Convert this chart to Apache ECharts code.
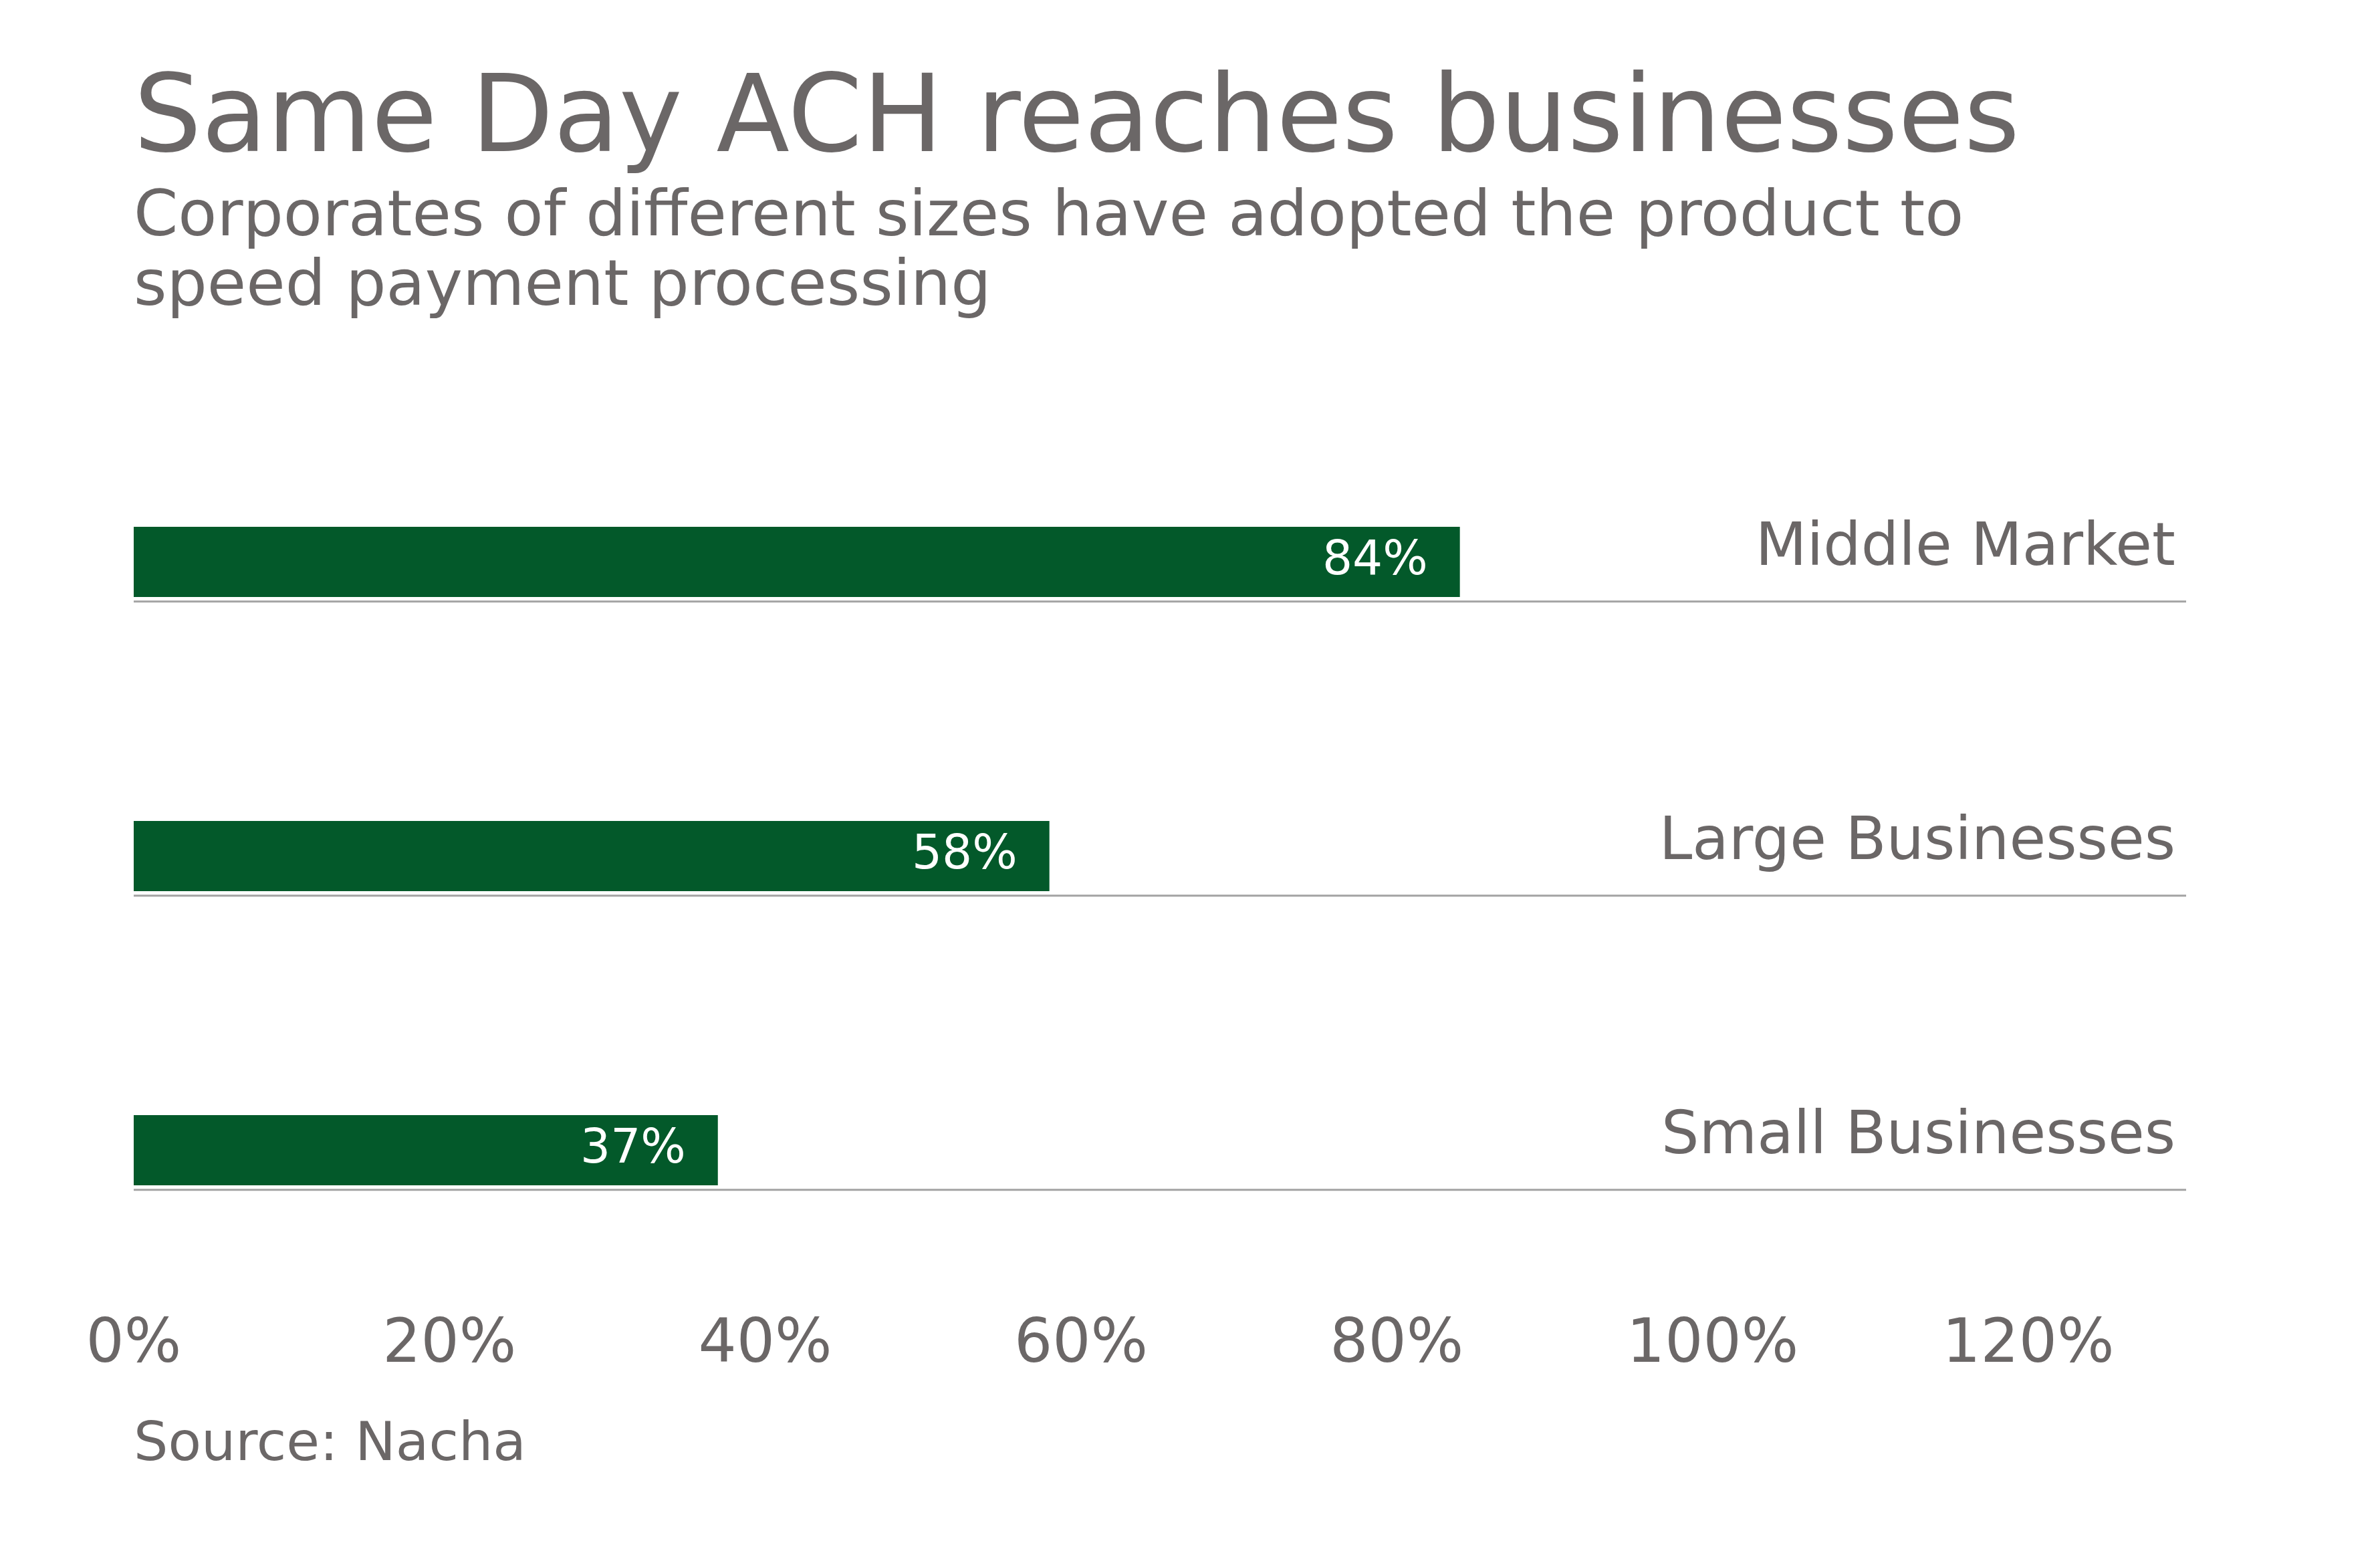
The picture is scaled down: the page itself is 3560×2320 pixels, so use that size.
<!DOCTYPE html>
<html>
<head>
<meta charset="utf-8">
<title>Same Day ACH reaches businesses</title>
<script src="https://cdn.jsdelivr.net/npm/echarts@6/dist/echarts.min.js"></script>
<style>
  html, body { margin: 0; padding: 0; background: #ffffff; }
  #chart { width: 3560px; height: 2320px; }
</style>
</head>
<body>
<div id="chart"></div>
<script>
// ---- data ----
var categories = ['Middle Market', 'Large Businesses', 'Small Businesses'];
var adoption = [84, 58, 37];          // % of corporates using Same Day ACH
var baseline = [0, 0, 0];             // grey rule under each bar
var xTicks = { min: 0, max: 130, step: 20 };

var grey = '#6b6767';
var green = '#03592a';
var rule = '#a3a3a3';
var font = 'DejaVu Sans';

var myChart = echarts.init(document.getElementById('chart'));

var option = {
    backgroundColor: '#ffffff',
    animation: false,
    title: [
        {
            text: 'Same Day ACH reaches businesses',
            left: 200, top: 104, padding: 0,
            textStyle: { fontFamily: font, fontSize: 160, fontWeight: 'normal', color: grey, lineHeight: 160 }
        },
        {
            text: 'Corporates of different sizes have adopted the product to\nspeed payment processing',
            left: 200, top: 275, padding: 0,
            textStyle: { fontFamily: font, fontSize: 95, fontWeight: 'normal', color: grey, lineHeight: 104 }
        },
        {
            text: 'Source: Nacha',
            left: 200, top: 2122, padding: 0,
            textStyle: { fontFamily: font, fontSize: 81, fontWeight: 'normal', color: grey, lineHeight: 81 }
        }
    ],
    grid: { left: 200, right: 290, top: 624.5, bottom: 375.5, containLabel: false },
    xAxis: {
        type: 'value',
        min: xTicks.min,
        max: xTicks.max,
        interval: xTicks.step,
        axisLine: { show: false },
        axisTick: { show: false },
        splitLine: { show: false },
        axisLabel: {
            show: true,
            showMaxLabel: false,
            margin: 24,
            formatter: '{value}%',
            fontFamily: font, fontSize: 90, color: grey
        }
    },
    yAxis: {
        type: 'category',
        data: categories,
        inverse: true,
        position: 'right',
        axisLine: { show: false },
        axisTick: { show: false },
        splitLine: { show: false },
        axisLabel: {
            inside: true,
            margin: 16,
            fontFamily: font, fontSize: 89, color: grey,
            lineHeight: 46,
            verticalAlign: 'bottom'
        }
    },
    series: [
        {
            name: 'Adoption',
            type: 'bar',
            data: adoption,
            barWidth: 105,
            barGap: '5%',
            itemStyle: { color: green },
            label: {
                show: true,
                position: 'insideRight',
                distance: 48,
                formatter: '{c}%',
                fontFamily: font, fontSize: 71, color: '#ffffff'
            },
            silent: true
        },
        {
            name: 'rule',
            type: 'bar',
            data: baseline,
            barWidth: 3,
            showBackground: true,
            backgroundStyle: { color: rule, opacity: 1 },
            itemStyle: { color: rule },
            silent: true
        }
    ]
};
myChart.setOption(option);
</script>
</body>
</html>
